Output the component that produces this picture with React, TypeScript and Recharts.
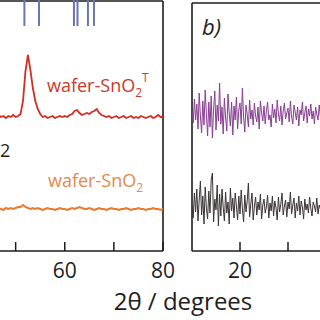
import { ComposedChart, Line, XAxis, YAxis, ReferenceLine } from "recharts";

const FONT = "'Open Sans', 'DejaVu Sans', sans-serif";
const AXIS = "#1c1c1c";

// panel a) — film patterns, sampled every 0.5° from 46°
const A_START = 46;
const A_STEP = 0.5;
const A_DOMAIN: [number, number] = [46, 80];
const A_YMAX = 250;
const WAFER_SNO2_T = [
  134, 136, 134, 135, 133, 135, 134, 136, 134, 135,
  137, 150, 180, 196, 181, 163, 150, 142, 137, 134,
  135, 133, 134, 135, 133, 134, 135, 134, 135, 134,
  136, 137, 140, 141, 138, 136, 137, 138, 137, 139,
  140, 142, 138, 136, 135, 134, 135, 133, 134, 135,
  133, 134, 135, 133, 134, 135, 133, 134, 133, 135,
  134, 133, 134, 135, 133, 134, 136, 134, 134,
];
const WAFER_SNO2 = [
  42, 43, 42, 41, 43, 42, 43, 42, 43, 44,
  44, 46, 44, 43, 42, 43, 42, 43, 42, 41,
  42, 43, 42, 42, 41, 42, 43, 42, 42, 41,
  42, 43, 42, 43, 44, 43, 42, 42, 43, 42,
  41, 42, 43, 42, 42, 41, 42, 43, 42, 42,
  41, 42, 42, 43, 42, 41, 42, 42, 43, 42,
  42, 41, 42, 42, 43, 42, 42, 41, 42,
];
// cassiterite SnO2 reference reflections (2θ)
const SNO2_REF = [51.78, 54.76, 61.87, 62.59, 64.72, 65.94];
const A_TICKS = [50, 60, 70, 80];
const A_TOP_TICKS = [50, 60, 70];

// panel b) — sampled every 0.25° from 10°
const B_START = 10;
const B_STEP = 0.25;
const B_DOMAIN: [number, number] = [10, 80];
const B_YMAX = 248;
const PURPLE = [
  140, 128, 152, 131, 147, 122, 158, 135, 118, 150, 126, 161, 137, 115, 149, 124, 155, 113, 142, 160,
  121, 146, 130, 168, 127, 144, 117, 153, 133, 120, 157, 138, 125, 149, 116, 145, 131, 154, 122, 141,
  148, 127, 163, 134, 119, 146, 137, 124, 151, 132, 141, 126, 148, 135, 129, 144, 122, 150, 138, 130,
  145, 127, 140, 149, 131, 136, 124, 147, 133, 142, 128, 151, 137, 130, 145, 126, 140, 148, 132, 138,
  143, 129, 150, 134, 127, 146, 139, 131, 144, 125, 141, 136, 149, 130, 138, 145, 128, 142, 135, 147,
  132, 140, 127, 144, 137, 131, 146, 134, 139,
];
const BLACK = [
  46, 33, 58, 39, 62, 30, 51, 70, 36, 55, 27, 64, 43, 32, 60, 38, 71, 78, 29, 52,
  41, 66, 25, 57, 35, 62, 44, 30, 59, 38, 49, 27, 63, 40, 53, 33, 58, 45, 31, 55,
  37, 61, 42, 29, 56, 39, 50, 68, 34, 47, 58, 31, 45, 54, 36, 49, 41, 57, 32, 46,
  52, 38, 44, 56, 33, 48, 40, 55, 35, 50, 43, 31, 54, 39, 47, 58, 36, 45, 51, 34,
  49, 42, 59, 37, 46, 53, 33, 48, 40, 55, 36, 50, 44, 32, 52, 41, 47, 38, 54, 43,
  35, 49, 45, 39, 53, 37, 46, 42, 50,
];
const B_TICKS = [20, 30];

const rowsA = WAFER_SNO2_T.map((v, i) => ({
  angle: A_START + i * A_STEP,
  annealed: v,
  asDep: WAFER_SNO2[i],
}));
const rowsB = PURPLE.map((v, i) => ({
  angle: B_START + i * B_STEP,
  top: v,
  bottom: BLACK[i],
}));

const label20 = (v: number) => (v % 20 === 0 ? String(v) : "");
const tickStyle = { fontSize: 21, fill: "#1e1e1e", fontFamily: FONT };
const tickLine = { stroke: AXIS, strokeWidth: 1.5 };

// thin strip sharing the panel's x scale: inward ticks under the top frame
function TopTicks(props: {
  width: number;
  height: number;
  margin: { top: number; right: number; bottom: number; left: number };
  domain: [number, number];
  ticks: number[];
}) {
  return (
    <ComposedChart width={props.width} height={props.height} margin={props.margin} data={[{ angle: props.domain[0] }]}>
      <XAxis hide dataKey="angle" type="number" domain={props.domain} allowDataOverflow />
      <YAxis hide domain={[0, 1]} />
      {props.ticks.map((t) => (
        <ReferenceLine key={t} x={t} stroke={AXIS} strokeWidth={1.5} ifOverflow="visible" />
      ))}
    </ComposedChart>
  );
}

export default function App() {
  return (
    <div
      style={{
        position: "absolute",
        left: 0,
        top: 0,
        width: 320,
        height: 320,
        overflow: "hidden",
        background: "#fff",
        fontFamily: FONT,
      }}
    >
      <div style={{ position: "absolute", left: -4, top: 0 }}>
        <ComposedChart width={187} height={320} data={rowsA} margin={{ top: 1, right: 20, bottom: 39, left: 0 }}>
          <XAxis
            dataKey="angle"
            type="number"
            domain={A_DOMAIN}
            ticks={A_TICKS}
            interval={0}
            allowDataOverflow
            tickFormatter={label20}
            tickSize={-9}
            tickMargin={21}
            height={30}
            axisLine={false}
            tickLine={tickLine}
            tick={tickStyle}
          />
          <YAxis hide domain={[0, A_YMAX]} allowDataOverflow />
          <ReferenceLine y={0} stroke={AXIS} strokeWidth={1.5} ifOverflow="visible" />
          <ReferenceLine y={A_YMAX} stroke={AXIS} strokeWidth={1.5} ifOverflow="visible" />
          <ReferenceLine x={A_DOMAIN[1]} stroke={AXIS} strokeWidth={1.6} ifOverflow="visible" />
          {SNO2_REF.map((a) => (
            <ReferenceLine
              key={a}
              segment={[{ x: a, y: A_YMAX + 1 }, { x: a, y: A_YMAX - 25 }]}
              stroke="#6d74b4"
              strokeWidth={2}
              ifOverflow="visible"
            />
          ))}
          <Line dataKey="asDep" type="linear" stroke="#ec7a2c" strokeWidth={2} dot={false} isAnimationActive={false} />
          <Line dataKey="annealed" type="linear" stroke="#d52d22" strokeWidth={1.8} dot={false} isAnimationActive={false} />
        </ComposedChart>
      </div>
      <div style={{ position: "absolute", left: -4, top: 0 }}>
        <TopTicks width={187} height={12} margin={{ top: 1, right: 20, bottom: 0, left: 0 }} domain={A_DOMAIN} ticks={A_TOP_TICKS} />
      </div>

      <div style={{ position: "absolute", left: 190, top: 0 }}>
        <ComposedChart width={340} height={320} data={rowsB} margin={{ top: 3, right: 2, bottom: 39, left: 2 }}>
          <XAxis
            dataKey="angle"
            type="number"
            domain={B_DOMAIN}
            ticks={B_TICKS}
            interval={0}
            allowDataOverflow
            tickFormatter={label20}
            tickSize={-9}
            tickMargin={21}
            height={30}
            axisLine={false}
            tickLine={tickLine}
            tick={tickStyle}
          />
          <YAxis hide domain={[0, B_YMAX]} allowDataOverflow />
          <ReferenceLine y={0} stroke={AXIS} strokeWidth={1.5} ifOverflow="visible" />
          <ReferenceLine y={B_YMAX} stroke={AXIS} strokeWidth={1.5} ifOverflow="visible" />
          <ReferenceLine x={B_DOMAIN[0]} stroke={AXIS} strokeWidth={1.6} ifOverflow="visible" />
          <Line dataKey="top" type="linear" stroke="#8a3e92" strokeWidth={1} dot={false} isAnimationActive={false} />
          <Line dataKey="bottom" type="linear" stroke="#3b3536" strokeWidth={1} dot={false} isAnimationActive={false} />
        </ComposedChart>
      </div>
      <div style={{ position: "absolute", left: 190, top: 0 }}>
        <TopTicks width={340} height={12} margin={{ top: 3, right: 2, bottom: 0, left: 2 }} domain={B_DOMAIN} ticks={B_TICKS} />
      </div>

      <svg
        width={320}
        height={320}
        style={{ position: "absolute", left: 0, top: 0, pointerEvents: "none" }}
        fontFamily={FONT}
      >
        <text x={47} y={92} fontSize={18} fill="#cc392d">
          wafer-SnO
          <tspan fontSize={12} dy={5}>2</tspan>
          <tspan fontSize={12} dy={-15}>T</tspan>
        </text>
        <text x={48} y={187} fontSize={18} fill="#e5894c">
          wafer-SnO
          <tspan fontSize={12} dy={5}>2</tspan>
        </text>
        <text x={0} y={157} fontSize={18} fill="#1e1e1e">2</text>
        <text x={202} y={35} fontSize={22} fontStyle="italic" fill="#1e1e1e">b)</text>
        <text x={183} y={310} fontSize={24} textAnchor="middle" fill="#1e1e1e">2θ / degrees</text>
      </svg>
    </div>
  );
}
